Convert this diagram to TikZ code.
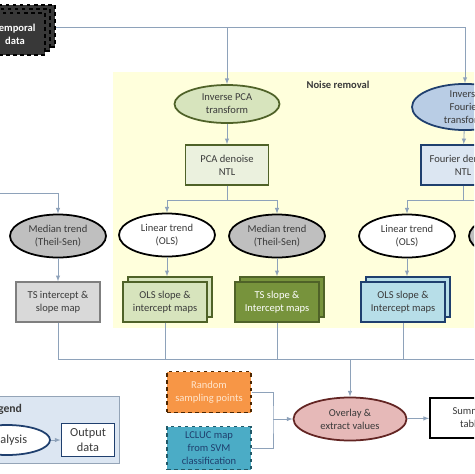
\documentclass[tikz,border=0pt]{standalone}
\usepackage{fontspec}
\setmainfont{Carlito}
\usepackage{xcolor}
\usepackage{tikz}
\usetikzlibrary{calc, shapes.geometric, shadows}

\definecolor{conncol}{HTML}{8EA2BA}
\definecolor{txtcol}{HTML}{3A3A3A}
\definecolor{yellowbg}{HTML}{FFFFDC}
\definecolor{olivelt}{HTML}{D7E4BD}
\definecolor{olivedk}{HTML}{4F6228}
\definecolor{olivemid}{HTML}{77933C}
\definecolor{greenpale}{HTML}{EBF1DE}
\definecolor{bluelt}{HTML}{B9CDE5}
\definecolor{bluepale}{HTML}{DCE6F2}
\definecolor{bluedk}{HTML}{1F3F6E}
\definecolor{cyanlt}{HTML}{B7DEE8}
\definecolor{graymid}{HTML}{BFBFBF}
\definecolor{graylt}{HTML}{D9D9D9}
\definecolor{graydk}{HTML}{7F7F7F}
\definecolor{pinklt}{HTML}{E6B9B8}
\definecolor{reddk}{HTML}{632523}
\definecolor{orangebox}{HTML}{F79646}
\definecolor{tealbox}{HTML}{4BACC6}
\definecolor{tealdk}{HTML}{215968}

\begin{document}
\begin{tikzpicture}[>=latex, x=0.03cm, y=-0.03cm,
    every node/.style={font=\fontsize{9}{11}\selectfont, text=txtcol, align=center, inner sep=0pt},
    conn/.style={draw=conncol, line width=0.7pt},
    oval/.style={ellipse, line width=1.5pt, minimum width=2.88cm, minimum height=1.29cm},
    mapbox/.style={rectangle, line width=1.2pt, minimum width=2.52cm, minimum height=1.2cm},
    stackbox/.style={mapbox, copy shadow={shadow xshift=0.15cm, shadow yshift=0.15cm}},
    dashbox/.style={rectangle, dashed, line width=1.4pt, minimum width=2.52cm},
    legfont/.style={font=\fontsize{10.5}{12.5}\selectfont}]
    \clip (0,0) rectangle (474,474);
    \fill[white] (0,0) rectangle (474,474);

    % Vùng khử nhiễu
    \fill[yellowbg] (113,72) rectangle (480,328);
    \node[font=\fontsize{9}{11}\selectfont\bfseries] (noise) at (338,85) {Noise removal};

    % Dữ liệu đầu vào
    \node[rectangle, dashed, line width=1.3pt, draw=black, fill=black!78, text=white,
        font=\fontsize{9}{11}\selectfont\bfseries, minimum width=1.8cm, minimum height=1.26cm,
        double copy shadow={shadow xshift=0.15cm, shadow yshift=0.12cm}]
        (tempdata) at (15,34) {Temporal\\data};
    \coordinate (topstart) at ($(tempdata.east)+(10,-7)$);

    % Biến đổi ngược và khử nhiễu
    \node[oval, draw=olivedk, fill=olivelt, minimum width=3.15cm, minimum height=1.14cm] (pcainv) at (227,104) {Inverse PCA\\transform};
    \node[mapbox, draw=olivedk, fill=greenpale, minimum width=2.49cm] (pcaden) at (227,165) {PCA denoise\\NTL};
    \node[oval, draw=bluedk, fill=bluelt, minimum width=3.18cm, minimum height=1.38cm] (fourinv) at (465,107) {Inverse\\Fourier\\transform};
    \node[mapbox, draw=bluedk, fill=bluepale] (fourden) at (463,165) {Fourier denoise\\NTL};

    % Xu hướng
    \node[oval, draw=black, fill=graymid] (medL) at (58,236) {Median trend\\(Theil-Sen)};
    \node[oval, draw=black, fill=white] (olsA) at (167,235) {Linear trend\\(OLS)};
    \node[oval, draw=black, fill=graymid] (medA) at (277,236) {Median trend\\(Theil-Sen)};
    \node[oval, draw=black, fill=white] (olsB) at (407,236) {Linear trend\\(OLS)};
    \node[oval, draw=black, fill=graymid] (medB) at (517,236) {Median trend\\(Theil-Sen)};

    % Bản đồ hệ số
    \node[mapbox, draw=graydk, fill=graylt] (tsmapL) at (58,302) {TS intercept \&\\slope map};
    \node[stackbox, draw=olivedk, fill=olivelt] (olsmapA) at (165,302) {OLS slope \&\\intercept maps};
    \node[stackbox, draw=olivedk, fill=olivemid, text=white] (tsmapA) at (277,302) {TS slope \&\\Intercept maps};
    \node[stackbox, draw=bluedk, fill=cyanlt] (olsmapB) at (403,302) {OLS slope \&\\Intercept maps};

    % Dữ liệu phụ và chồng lớp
    \node[dashbox, draw=black!70!orange, fill=orangebox, text=orange!20, minimum height=1.23cm] (random) at (209,392) {Random\\sampling points};
    \node[dashbox, draw=tealdk, fill=tealbox, text=bluedk, minimum height=1.29cm] (lcluc) at (209,448) {LCLUC map\\from SVM\\classification};
    \node[oval, draw=reddk, fill=pinklt, minimum width=3.39cm] (overlay) at (350,419) {Overlay \&\\extract values};
    \node[rectangle, draw=black, line width=1.5pt, fill=white, minimum width=2.58cm, minimum height=1.2cm] (summary) at (473,418) {Summary\\tables};

    % Chú giải
    \node[rectangle, draw=bluelt!80!black, line width=0.8pt, fill=bluepale, minimum width=4.35cm, minimum height=2.01cm] (legend) at (47,430) {};
    \node[anchor=west, font=\fontsize{10}{12}\selectfont\bfseries] (legtitle) at (-13,409) {Legend};
    \node[ellipse, legfont, draw=bluedk, line width=1.5pt, fill=white, minimum width=2.58cm, minimum height=0.9cm] (analysis) at (7,440) {Analysis};
    \node[rectangle, legfont, draw=bluedk, line width=1.5pt, fill=white, minimum width=1.59cm, minimum height=0.99cm] (output) at (88,440) {Output\\data};

    % Đường nối phía trên
    \draw[conn, ->] (topstart) -| (fourinv.north);
    \draw[conn, ->] (pcainv.north |- topstart) -- (pcainv.north);
    \draw[conn, ->] (pcainv) -- (pcaden);
    \draw[conn, ->] (fourinv) -- (fourden);

    % Rẽ nhánh tới các xu hướng
    \coordinate (pcasplit) at (227,200);
    \coordinate (foursplit) at (463,200);
    \coordinate (leftin) at (-10,193);
    \draw[conn] (pcaden.south) -- (pcasplit);
    \draw[conn, ->] (pcasplit) -| (olsA.north);
    \draw[conn, ->] (pcasplit) -| (medA.north);
    \draw[conn] (fourden.south) -- (foursplit);
    \draw[conn, ->] (foursplit) -| (olsB.north);
    \draw[conn, ->] (foursplit) -| (medB.north);
    \draw[conn, ->] (leftin) -| (medL.north);

    % Xu hướng tới bản đồ
    \draw[conn, ->] (medL) -- (tsmapL);
    \draw[conn, ->] (olsA.south) -- ($(olsA.south |- olsmapA.north)+(0,-5)$);
    \draw[conn, ->] (medA.south) -- ($(medA.south |- tsmapA.north)+(0,-5)$);
    \draw[conn, ->] (olsB.south) -- ($(olsB.south |- olsmapB.north)+(0,-5)$);

    % Gom về chồng lớp
    \coordinate (collect) at (350,359);
    \draw[conn] (tsmapL.south) -- (tsmapL.south |- collect) -- (480,359);
    \draw[conn] (olsmapA.south) -- (olsmapA.south |- collect);
    \draw[conn] (tsmapA.south) -- (tsmapA.south |- collect);
    \draw[conn] (olsmapB.south) -- (olsmapB.south |- collect);
    \draw[conn, ->] (collect) -- (overlay.north);
    \coordinate (merge) at (273,419);
    \draw[conn] (random.east) -| (merge) |- (lcluc.east);
    \draw[conn, ->] (merge) -- (overlay.west);
    \draw[conn, ->] (overlay) -- (summary);
    \draw[conn, ->] (analysis) -- (output);
\end{tikzpicture}
\end{document}
